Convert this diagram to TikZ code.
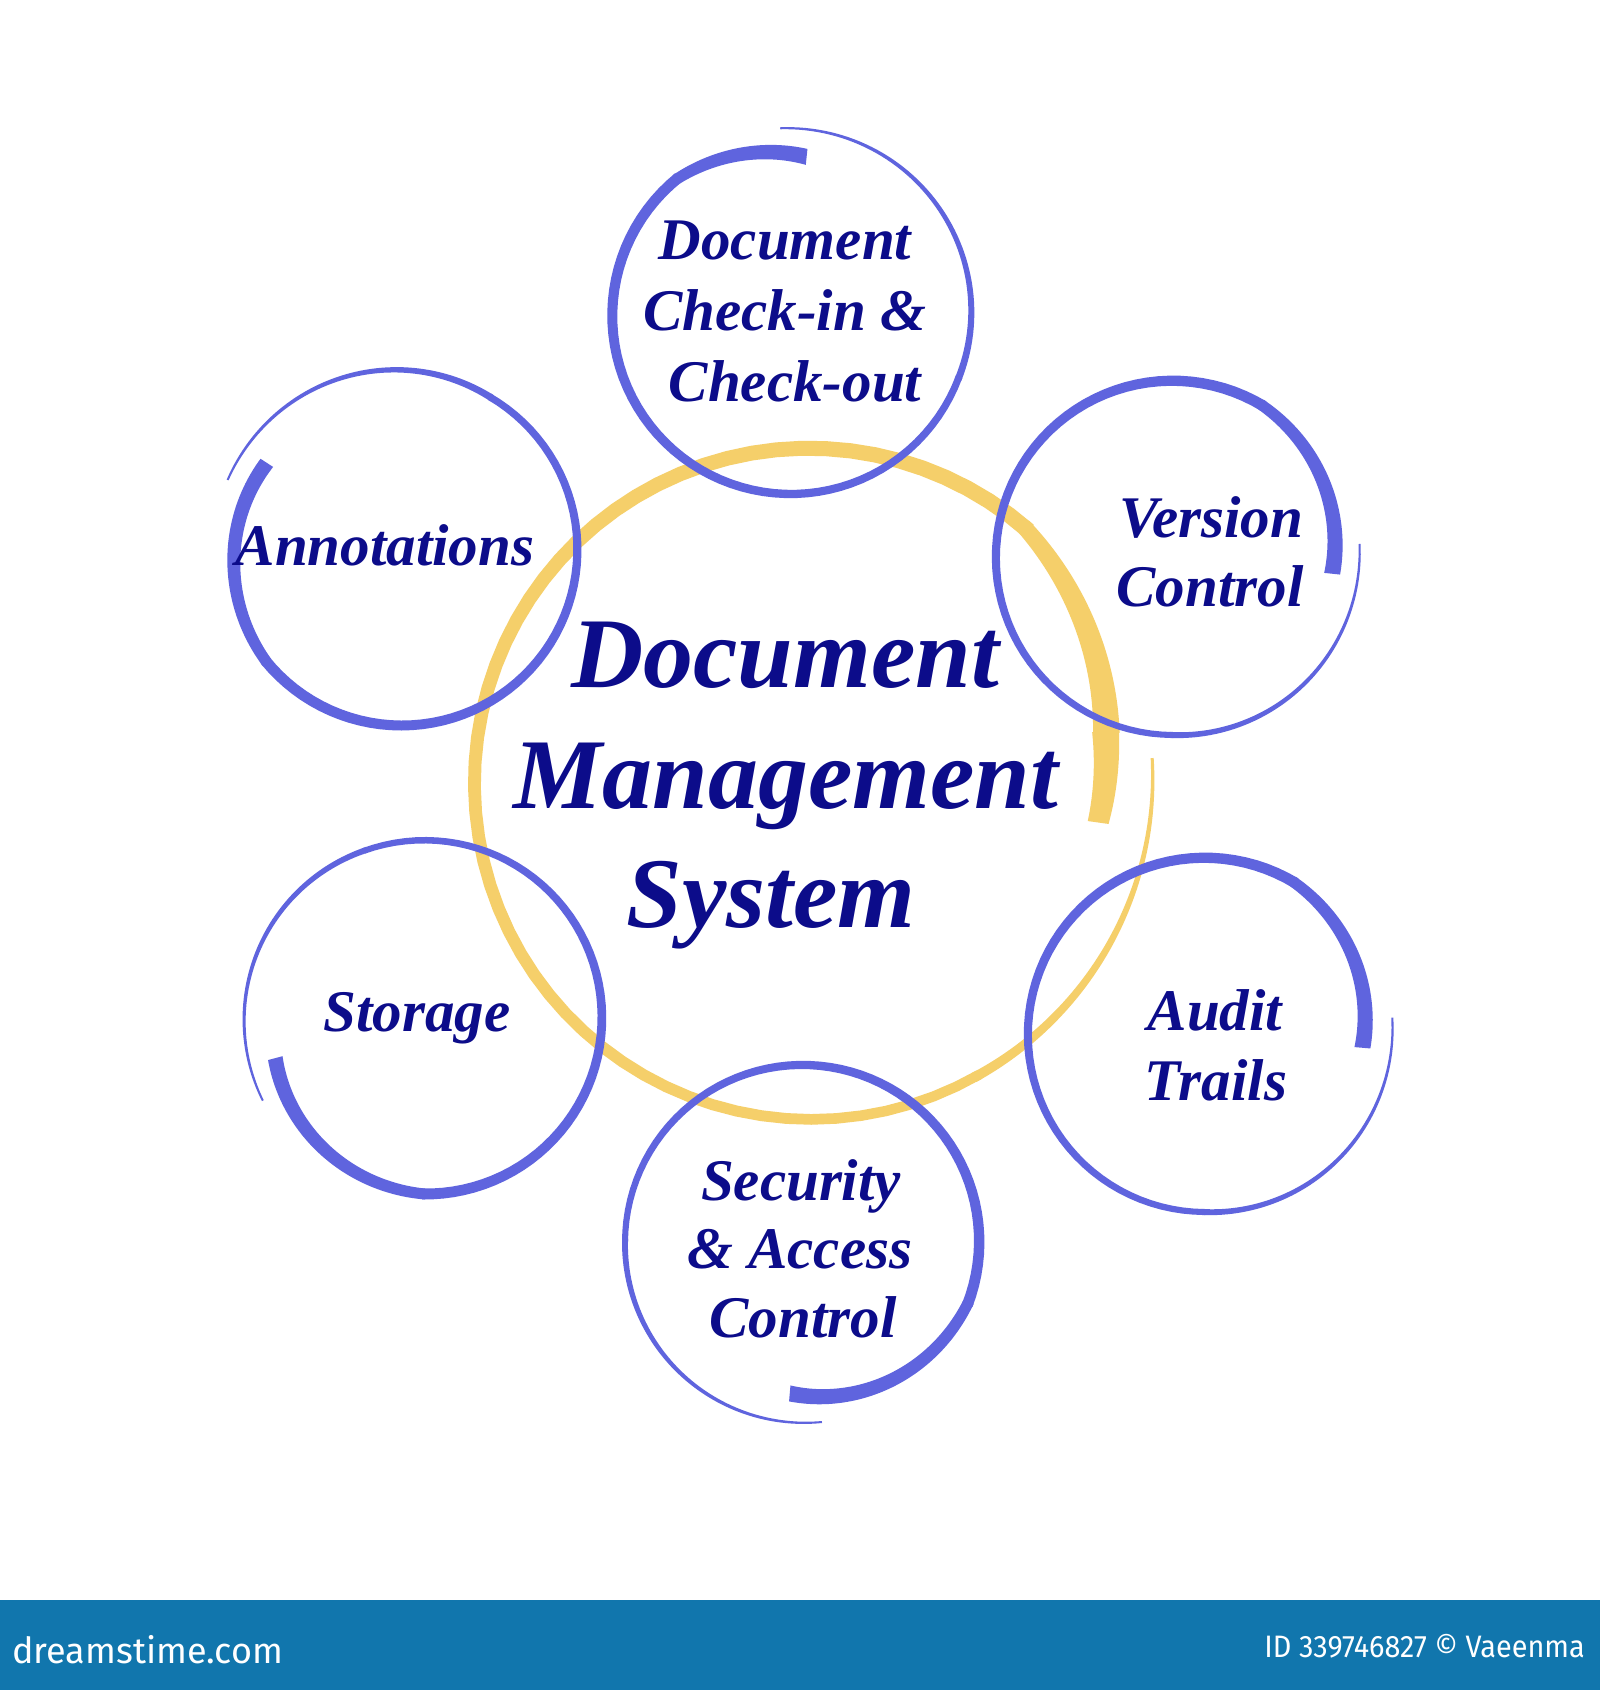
\documentclass[tikz,border=0pt]{standalone}
\usepackage{fontspec}
\setmainfont{Liberation Serif}
\newfontfamily\barfont{Fira Sans}

\definecolor{ringblue}{RGB}{95,100,222}
\definecolor{ringyellow}{RGB}{245,207,106}
\definecolor{labelnavy}{RGB}{12,12,138}
\definecolor{barblue}{RGB}{17,118,173}

% brush ring piece: colour, centre x, centre y, angle from/to, radius from/to, width from/to
\newcommand{\brushring}[9]{%
  \fill[#1, shift={(#2,#3)}]
    plot[domain=#4:#5, samples=60, variable=\t]
      ({((#6)+((#7)-(#6))*(\t-(#4))/((#5)-(#4))+0.5*((#8)+((#9)-(#8))*(\t-(#4))/((#5)-(#4))))*cos(\t)},
       {((#6)+((#7)-(#6))*(\t-(#4))/((#5)-(#4))+0.5*((#8)+((#9)-(#8))*(\t-(#4))/((#5)-(#4))))*sin(\t)})
    -- plot[domain=#5:#4, samples=60, variable=\t]
      ({((#6)+((#7)-(#6))*(\t-(#4))/((#5)-(#4))-0.5*((#8)+((#9)-(#8))*(\t-(#4))/((#5)-(#4))))*cos(\t)},
       {((#6)+((#7)-(#6))*(\t-(#4))/((#5)-(#4))-0.5*((#8)+((#9)-(#8))*(\t-(#4))/((#5)-(#4))))*sin(\t)})
    -- cycle;}

\begin{document}
\begin{tikzpicture}[x=1pt, y=-1pt,
    lbl/.style={labelnavy, inner sep=0pt, anchor=base,
      font=\fontsize{59}{70}\selectfont\bfseries\itshape},
    title/.style={lbl, font=\fontsize{100}{120}\selectfont\bfseries\itshape},
    bartext/.style={white, inner sep=0pt}]
  \fill[white] (0,0) rectangle (1600,1690);
  \useasboundingbox (0,0) rectangle (1600,1690);

  % yellow hub
  \brushring{ringyellow}{810}{782}{-4}{61}{343}{338}{3}{10}
  \brushring{ringyellow}{810}{782}{60}{311}{338}{333}{10}{16}
  \brushring{ringyellow}{810}{782}{310}{351}{333}{300}{16}{27}
  \brushring{ringyellow}{810}{782}{350}{368}{300}{291}{27}{21}

  % check-in / check-out
  \brushring{ringblue}{790}{315}{267}{381}{187}{180}{2}{7}
  \brushring{ringblue}{790}{315}{380}{591}{180}{177}{7}{11}
  \brushring{ringblue}{790}{315}{590}{636}{177}{159}{11}{16}
  % annotations
  \brushring{ringblue}{401}{550}{202}{301}{187}{177}{2}{7}
  \brushring{ringblue}{401}{550}{300}{501}{177}{175}{7}{11}
  \brushring{ringblue}{401}{550}{500}{573}{175}{160}{11}{15}
  % version control
  \brushring{ringblue}{1173}{557}{-4}{91}{187}{178}{2}{6}
  \brushring{ringblue}{1173}{557}{90}{301}{178}{176}{6}{11}
  \brushring{ringblue}{1173}{557}{300}{366}{176}{160}{11}{16}
  % storage
  \brushring{ringblue}{425}{1018}{153}{251}{182}{178}{2}{6}
  \brushring{ringblue}{425}{1018}{250}{451}{178}{176}{6}{11}
  \brushring{ringblue}{425}{1018}{450}{525}{176}{155}{11}{15}
  % audit trails
  \brushring{ringblue}{1205}{1034}{-5}{91}{188}{178}{2}{6}
  \brushring{ringblue}{1205}{1034}{90}{301}{178}{176}{6}{11}
  \brushring{ringblue}{1205}{1034}{300}{365}{176}{158}{11}{16}
  % security
  \brushring{ringblue}{803}{1242}{84}{181}{181}{178}{2}{6}
  \brushring{ringblue}{803}{1242}{180}{381}{178}{176}{6}{11}
  \brushring{ringblue}{803}{1242}{380}{455}{176}{152}{11}{16}

  % labels
  \node[title] (dms1) at (785,687) {Document};
  \node[title] (dms2) at (786,808) {Management};
  \node[title] (dms3) at (771,927) {System};

  \node[lbl] (chk1) at (785,259) {Document};
  \node[lbl] (chk2) at (785,330) {Check-in \&};
  \node[lbl] (chk3) at (795,401) {Check-out};
  \node[lbl] (annot) at (385,565) {Annotations};
  \node[lbl] (ver1) at (1211,537) {Version};
  \node[lbl] (ver2) at (1210,606) {Control};
  \node[lbl] (stor) at (417,1031) {Storage};
  \node[lbl] (aud1) at (1215,1030) {Audit};
  \node[lbl] (aud2) at (1216,1100) {Trails};
  \node[lbl] (sec1) at (801,1200) {Security};
  \node[lbl] (sec2) at (800,1268) {\& Access};
  \node[lbl] (sec3) at (803,1337) {Control};

  % stock bar
  \fill[barblue] (0,1600) rectangle (1600,1690);
  \node[bartext, anchor=base west, font=\barfont\fontsize{36}{40}\selectfont] (logo) at (12,1663) {dreamstime.com};
  \node[bartext, anchor=base east, font=\barfont\fontsize{31}{36}\selectfont] (imgid) at (1585,1657) {\scalebox{0.93}[1]{ID 339746827 © Vaeenma}};
\end{tikzpicture}
\end{document}
